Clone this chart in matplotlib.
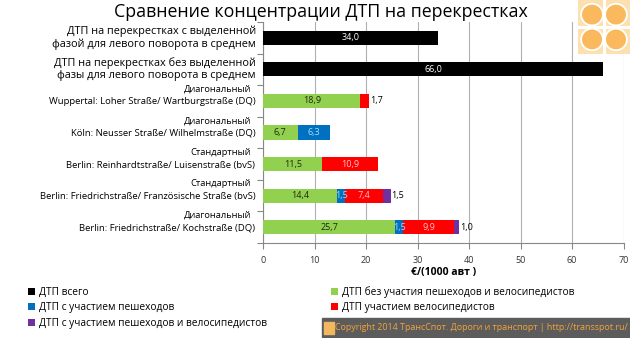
import numpy as np
import matplotlib.pyplot as plt
from matplotlib.patches import Rectangle, Ellipse

plt.rcParams['font.family'] = ['Open Sans', 'DejaVu Sans']

# categories, top to bottom: (type line, place line)
cat_top = ['ДТП на перекрестках с выделенной', 'ДТП на перекрестках без выделенной',
           'Диагональный', 'Диагональный', 'Стандартный', 'Стандартный', 'Диагональный']
cat_bottom = ['фазой для левого поворота в среднем', 'фазы для левого поворота в среднем',
              'Wuppertal: Loher Straße/ Wartburgstraße (DQ)',
              'Köln: Neusser Straße/ Wilhelmstraße (DQ)',
              'Berlin: Reinhardtstraße/ Luisenstraße (bvS)',
              'Berlin: Friedrichstraße/ Französische Straße (bvS)',
              'Berlin: Friedrichstraße/ Kochstraße (DQ)']

total = [34.0, 66.0, 0, 0, 0, 0, 0]
no_ped_bike = [0, 0, 18.9, 6.7, 11.5, 14.4, 25.7]
ped = [0, 0, 0, 6.3, 0, 1.5, 1.5]
bike = [0, 0, 1.7, 0, 10.9, 7.4, 9.9]
ped_bike = [0, 0, 0, 0, 0, 1.5, 1.0]

series = [
    ('ДТП всего', total, '#000000', 'white'),
    ('ДТП без участия пешеходов и велосипедистов', no_ped_bike, '#92d050', '#1e2a10'),
    ('ДТП с участием пешеходов', ped, '#0070c0', '#a8dcff'),
    ('ДТП участием велосипедистов', bike, '#ff0000', '#ffc8c8'),
    ('ДТП с участием пешеходов и велосипедистов', ped_bike, '#7030a0', 'white'),
]

fig = plt.figure(figsize=(6.3, 3.38), dpi=100)
ax = fig.add_axes([0.4175, 0.281, 0.5725, 0.654])

n = len(cat_top)
y = np.arange(n)
vals_all = np.array([s[1] for s in series], dtype=float)
left = np.zeros(n)
handles = {}
for k, (name, vals, color, tcolor) in enumerate(series):
    vals = vals_all[k]
    bars = ax.barh(y, vals, left=left, height=0.45, color=color, label=name, zorder=3)
    handles[name] = bars
    ends = left + vals
    for i, v in enumerate(vals):
        if v <= 0:
            continue
        txt = f'{v:.1f}'.replace('.', ',')
        is_last = np.all(vals_all[k + 1:, i] == 0)
        if v < 2 and is_last:
            ax.text(ends[i] + 0.1, i, txt, ha='left', va='center', fontsize=6.5, color='black', zorder=4)
        else:
            ax.text(left[i] + v / 2, i, txt, ha='center', va='center', fontsize=6.5, color=tcolor, zorder=4)
    left = ends

ax.set_xlim(0, 70)
ax.set_ylim(n - 0.5, -0.5)
ax.set_xticks(np.arange(0, 71, 10))
ax.tick_params(axis='x', labelsize=6.5, colors='#333333', length=4, color='#888888', pad=5)
ax.set_yticks(np.arange(-0.5, n, 1))
ax.set_yticklabels([])
ax.tick_params(axis='y', length=4, color='#888888')
ax.grid(axis='x', color='#b0b0b0', linewidth=0.8, zorder=0)
for s in ['top', 'right']:
    ax.spines[s].set_visible(False)
for s in ['left', 'bottom']:
    ax.spines[s].set_color('#888888')
ax.set_xlabel('€/(1000 авт )', fontsize=7.5, fontweight='bold', labelpad=2)

# category labels
for i in range(n):
    if i < 2:
        ax.text(-1.4, i - 0.2, cat_top[i], ha='right', va='center', fontsize=7.8, clip_on=False)
        ax.text(-1.4, i + 0.2, cat_bottom[i], ha='right', va='center', fontsize=7.8, clip_on=False)
    else:
        ax.text(-2.3, i - 0.37, cat_top[i], ha='right', va='center', fontsize=6.7, clip_on=False)
        ax.text(-1.5, i + 0.03, cat_bottom[i], ha='right', va='center', fontsize=6.8, clip_on=False)

fig.text(0.51, 0.965, 'Сравнение концентрации ДТП на перекрестках', ha='center', va='center',
         fontsize=12.8)

order = ['ДТП всего', 'ДТП с участием пешеходов', 'ДТП с участием пешеходов и велосипедистов',
         'ДТП без участия пешеходов и велосипедистов', 'ДТП участием велосипедистов']
fig.legend([handles[k] for k in order], order, loc='lower left', bbox_to_anchor=(0.03, 0.0),
           ncol=2, frameon=False, fontsize=7.3, handlelength=0.7, handleheight=0.7,
           columnspacing=6.3, labelspacing=0.45, handletextpad=0.4)

# logo in the corner
lax = fig.add_axes([578 / 630, 1 - 54 / 338, 52 / 630, 54 / 338])
lax.set_xlim(0, 1)
lax.set_ylim(0, 1)
lax.axis('off')
lax.add_patch(Rectangle((0, 0), 1, 1, color='#fde0b0'))
for cx, cy in [(0.27, 0.73), (0.73, 0.73), (0.27, 0.27), (0.73, 0.27)]:
    lax.add_patch(Ellipse((cx, cy), 0.42, 0.4, facecolor='#f9b95c', edgecolor='white', lw=1.3))
lax.plot([0.5, 0.5], [0, 1], color='white', lw=2.2)
lax.plot([0, 1], [0.5, 0.5], color='white', lw=2.2)

# copyright strip
fig.patches.append(Rectangle((322 / 630, 0), 308 / 630, 20 / 338, transform=fig.transFigure,
                             color='#5c5c5c', zorder=5))
fig.text(335 / 630, 10 / 338, 'Copyright 2014 ТрансСпот. Дороги и транспорт | http://transspot.ru/',
         ha='left', va='center', fontsize=6.4, color='#f2a33a', zorder=6)
fig.patches.append(Rectangle((324 / 630, 4 / 338), 10 / 630, 12 / 338, transform=fig.transFigure,
                             color='#f2b860', zorder=6))

fig.savefig('out.png', dpi=100)
